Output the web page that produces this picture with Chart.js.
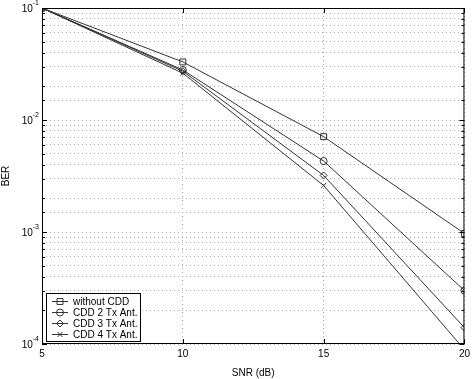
<!DOCTYPE html>
<html>
<head>
<meta charset="utf-8">
<script src="https://cdn.jsdelivr.net/npm/chart.js@4.4.1/dist/chart.umd.min.js"></script>
<style>
html, body { margin: 0; padding: 0; background: #fff; }
#wrap { width: 474px; height: 379px; }
</style>
</head>
<body>
<div id="wrap"><canvas id="ber-chart"></canvas></div>
<script>
// data
const snr = [5, 10, 15, 20];
const berNoCdd = [0.1, 0.033, 0.0071, 0.00097];
const berCdd2 = [0.1, 0.028, 0.0043, 0.0003];
const berCdd3 = [0.1, 0.0273, 0.0032, 0.00014];
const berCdd4 = [0.1, 0.0262, 0.0026, 0.000089];
const seriesLabels = ['without CDD', 'CDD 2 Tx Ant.', 'CDD 3 Tx Ant.', 'CDD 4 Tx Ant.'];
const markers = ['rect', 'circle', 'rectRot', 'crossRot'];
const xTicks = [5, 10, 15, 20];
const yMajor = [1e-4, 1e-3, 1e-2, 1e-1];
const yExponents = ['-4', '-3', '-2', '-1'];

const FONT = 'Liberation Sans, Arial, sans-serif';
const INK = '#333';

function makeSet(label, values, marker) {
    return {
        label: label,
        data: snr.map((x, i) => ({ x: x, y: values[i] })),
        showLine: true,
        borderColor: INK,
        borderWidth: 1,
        backgroundColor: 'rgba(0,0,0,0)',
        pointStyle: marker,
        pointRadius: marker === 'rect' ? 4.2 : 3.5,
        pointBorderColor: INK,
        pointBorderWidth: 1,
        pointBackgroundColor: 'rgba(0,0,0,0)'
    };
}

// frame, inside ticks, y labels and legend, drawn like the matlab figure
const matlabLook = {
    id: 'matlabLook',
    afterDraw(chart) {
        const ctx = chart.ctx;
        const area = chart.chartArea;
        const xs = chart.scales.x;
        const ys = chart.scales.y;
        ctx.save();
        ctx.strokeStyle = '#000';
        ctx.lineWidth = 1;
        ctx.strokeRect(area.left + 0.5, area.top + 0.5, area.right - area.left - 1, area.bottom - area.top - 1);

        // tick marks on the inside
        ctx.beginPath();
        ys.ticks.forEach(t => {
            const y = Math.round(ys.getPixelForValue(t.value)) + 0.5;
            const major = yMajor.some(m => Math.abs(Math.log10(t.value) - Math.log10(m)) < 1e-6);
            const len = major ? 5 : 3;
            ctx.moveTo(area.left, y); ctx.lineTo(area.left + len, y);
            ctx.moveTo(area.right, y); ctx.lineTo(area.right - len, y);
        });
        xTicks.forEach(v => {
            const x = Math.round(xs.getPixelForValue(v)) + 0.5;
            ctx.moveTo(x, area.bottom); ctx.lineTo(x, area.bottom - 5);
            ctx.moveTo(x, area.top); ctx.lineTo(x, area.top + 5);
        });
        ctx.stroke();

        // y labels 10^n
        ctx.fillStyle = '#000';
        ctx.textBaseline = 'middle';
        yMajor.forEach((v, i) => {
            const y = ys.getPixelForValue(v);
            ctx.font = '7px ' + FONT;
            const ew = ctx.measureText(yExponents[i]).width;
            ctx.textAlign = 'left';
            ctx.fillText(yExponents[i], area.left - 3 - ew, y - 5);
            ctx.font = '10px ' + FONT;
            ctx.textAlign = 'right';
            ctx.fillText('10', area.left - 3 - ew, y + 1);
        });

        // legend box in the lower left corner
        const lx = area.left + 4, ly = area.bottom - 51, lw = 94, lh = 48;
        ctx.fillStyle = '#fff';
        ctx.fillRect(lx, ly, lw, lh);
        ctx.strokeStyle = '#000';
        ctx.strokeRect(lx + 0.5, ly + 0.5, lw, lh);
        chart.data.datasets.forEach((ds, i) => {
            const y = ly + 8 + i * 11;
            ctx.strokeStyle = INK;
            ctx.beginPath();
            ctx.moveTo(lx + 6, y + 0.5); ctx.lineTo(lx + 22, y + 0.5);
            ctx.stroke();
            ctx.fillStyle = 'rgba(0,0,0,0)';
            Chart.helpers.drawPoint(ctx, {
                pointStyle: ds.pointStyle, radius: ds.pointRadius, borderWidth: 1, rotation: 0
            }, lx + 14, y + 0.5);
            ctx.fillStyle = '#000';
            ctx.font = '10px ' + FONT;
            ctx.textAlign = 'left';
            ctx.fillText(ds.label, lx + 27, y + 1);
        });
        ctx.restore();
    }
};

const ctx = document.getElementById('ber-chart').getContext('2d');
const chart = new Chart(ctx, {
    type: 'scatter',
    data: {
        datasets: [
            makeSet(seriesLabels[0], berNoCdd, markers[0]),
            makeSet(seriesLabels[1], berCdd2, markers[1]),
            makeSet(seriesLabels[2], berCdd3, markers[2]),
            makeSet(seriesLabels[3], berCdd4, markers[3])
        ]
    },
    options: {
        responsive: true,
        maintainAspectRatio: false,
        animation: false,
        layout: { padding: { top: 8, right: 6, left: 0, bottom: 0 } },
        plugins: { legend: { display: false }, tooltip: { enabled: false } },
        scales: {
            x: {
                type: 'linear',
                min: 5,
                max: 20,
                afterBuildTicks(scale) { scale.ticks = xTicks.map(v => ({ value: v })); },
                afterFit(scale) { scale.height = 35; },
                grid: { color: '#aaa', lineWidth: 1, drawTicks: false },
                border: { display: false, dash: [1, 3] },
                ticks: { color: '#000', font: { family: FONT, size: 10 }, padding: 4, maxRotation: 0 },
                title: { display: true, text: 'SNR (dB)', color: '#000', font: { family: FONT, size: 10 }, padding: { top: 4, bottom: 0 } }
            },
            y: {
                type: 'logarithmic',
                min: 1e-4,
                max: 1e-1,
                afterFit(scale) { scale.width = 42; },
                grid: { color: '#aaa', lineWidth: 1, drawTicks: false },
                border: { display: false, dash: [1, 3] },
                ticks: { display: false, autoSkip: false },
                title: { display: true, text: 'BER', color: '#000', font: { family: FONT, size: 10 }, padding: { top: 0, bottom: 0 } }
            }
        }
    },
    plugins: [matlabLook]
});
</script>
</body>
</html>
